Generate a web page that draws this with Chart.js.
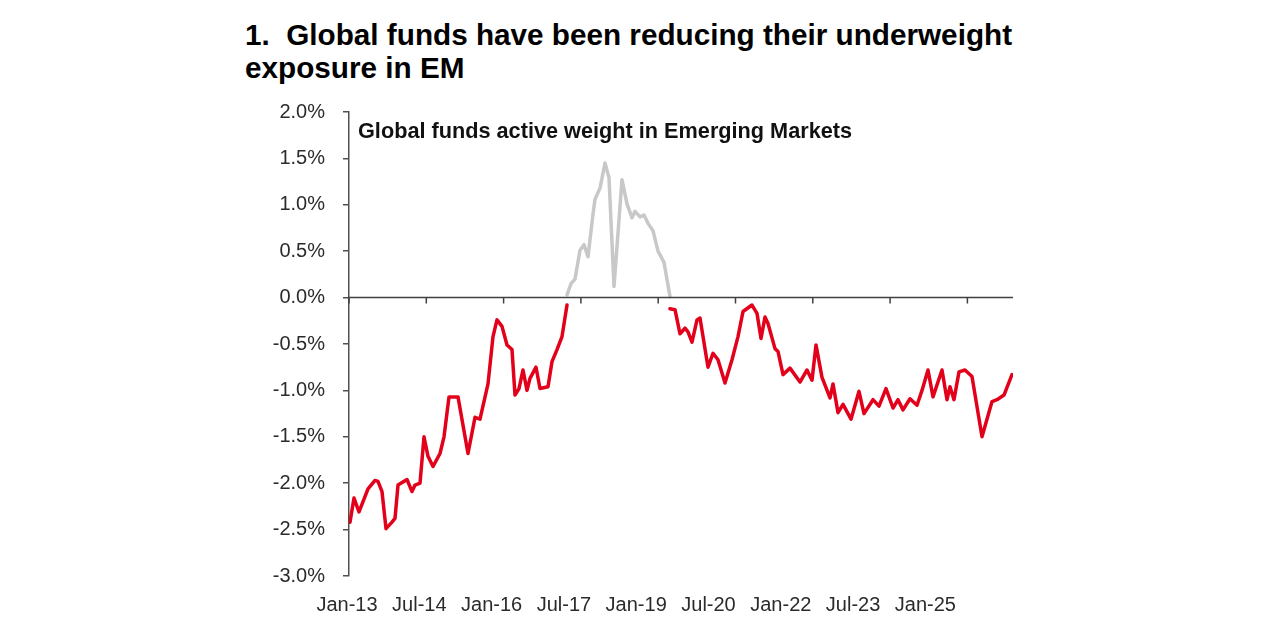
<!DOCTYPE html>
<html>
<head>
<meta charset="utf-8">
<script src="https://cdn.jsdelivr.net/npm/chart.js@4.4.1/dist/chart.umd.min.js"></script>
<style>
  html, body { margin: 0; padding: 0; background: #ffffff; }
  #wrap { position: relative; width: 1280px; height: 640px; overflow: hidden; }
  #c { position: absolute; left: 0; top: 0; }
  #title {
    position: absolute; left: 245px; top: 18px; width: 800px;
    font-family: "Liberation Sans", Arial, sans-serif; font-weight: bold;
    font-size: 29.7px; line-height: 33px; color: #000; white-space: pre;
  }
</style>
</head>
<body>
<div id="wrap">
  <div id="title">1.  Global funds have been reducing their underweight
exposure in EM</div>
  <canvas id="c" width="1280" height="640"></canvas>
</div>
<script>
// ---- data (x = observation position along the time axis, y = active weight in %) ----
const earlyRedX = [1,5,10,19,26,29,33,37,43,46,49,58,63,66,71,75,79,84,91,95,100,109,119,126,131,139,144,148,153,158,163,166,170,174,178,181,187,191,199,203,208,213,218];
const earlyRedY = [-2.42,-2.16,-2.31,-2.06,-1.97,-1.98,-2.09,-2.49,-2.42,-2.38,-2.02,-1.96,-2.09,-2.02,-2.00,-1.50,-1.71,-1.82,-1.68,-1.50,-1.07,-1.07,-1.68,-1.29,-1.31,-0.93,-0.42,-0.24,-0.31,-0.51,-0.56,-1.05,-0.98,-0.78,-1.00,-0.87,-0.75,-0.98,-0.96,-0.69,-0.56,-0.42,-0.08];
const positiveX = [218,222,226,231,235,239,244,246,251,256,260,265,273,278,283,286,291,295,299,304,309,315,321];
const positiveY = [0.03,0.15,0.20,0.51,0.57,0.44,0.90,1.06,1.18,1.45,1.29,0.12,1.27,1.01,0.86,0.93,0.87,0.89,0.80,0.72,0.50,0.38,0.01];
const lateRedX = [321,326,331,336,339,343,348,351,359,364,369,376,383,389,394,403,408,412,416,419,426,429,434,441,451,458,463,467,473,481,484,489,494,502,510,515,524,530,537,544,549,554,561,568,573,579,584,593,598,601,605,610,616,623,633,643,648,655,663];
const lateRedY = [-0.12,-0.13,-0.39,-0.33,-0.37,-0.48,-0.24,-0.22,-0.75,-0.60,-0.67,-0.92,-0.67,-0.42,-0.15,-0.08,-0.17,-0.44,-0.21,-0.28,-0.55,-0.58,-0.83,-0.76,-0.91,-0.78,-0.89,-0.51,-0.86,-1.08,-0.93,-1.24,-1.15,-1.31,-1.01,-1.25,-1.10,-1.17,-0.98,-1.19,-1.10,-1.21,-1.09,-1.16,-1.00,-0.78,-1.07,-0.78,-1.10,-0.96,-1.10,-0.80,-0.78,-0.85,-1.50,-1.12,-1.10,-1.05,-0.83];
const xTickLabels = ['Jan-13','Jul-14','Jan-16','Jul-17','Jan-19','Jul-20','Jan-22','Jul-23','Jan-25'];
const xTickLabelPos = [-2,70.3,142.6,214.9,287.2,359.5,431.8,504.1,576.4];
const yTickValues = [2.0,1.5,1.0,0.5,0.0,-0.5,-1.0,-1.5,-2.0,-2.5,-3.0];
const xAxisMax = 664;
const seriesLabel = 'Global funds active weight in Emerging Markets';

const toPts = (xs, ys) => xs.map((x, i) => ({ x: x, y: ys[i] }));
const RED = '#e2001a', GRAY = '#c8c8c8', AXIS = '#505050';
const FONT = '"Liberation Sans", Arial, sans-serif';

const zeroAxisPlugin = {
  id: 'zeroAxis',
  afterDatasetsDraw(chart) {
    const { ctx, chartArea, scales } = chart;
    const y0 = scales.y.getPixelForValue(0);
    ctx.save();
    ctx.strokeStyle = '#404040';
    ctx.lineWidth = 1.5;
    ctx.beginPath();
    ctx.moveTo(chartArea.left, y0);
    ctx.lineTo(chartArea.right, y0);
    const step = 77.3;
    for (let v = 0; v <= xAxisMax - 40; v += step) {
      const px = scales.x.getPixelForValue(v);
      ctx.moveTo(px, y0);
      ctx.lineTo(px, y0 + 6);
    }
    ctx.stroke();
    ctx.restore();
  }
};

const notePlugin = {
  id: 'note',
  afterDraw(chart) {
    const { ctx, chartArea } = chart;
    ctx.save();
    ctx.font = 'bold 21.7px ' + FONT;
    ctx.fillStyle = '#111';
    ctx.textAlign = 'left';
    ctx.textBaseline = 'alphabetic';
    ctx.fillText(seriesLabel, chartArea.left + 9, chartArea.top + 26);
    ctx.restore();
  }
};

const common = { pointRadius: 0, borderWidth: 3.5, tension: 0, fill: false,
                 borderJoinStyle: 'round', borderCapStyle: 'round', parsing: false };

new Chart(document.getElementById('c'), {
  type: 'line',
  data: {
    datasets: [
      Object.assign({ label: seriesLabel, data: toPts(earlyRedX, earlyRedY), borderColor: RED }, common),
      Object.assign({ label: seriesLabel + ' (positive)', data: toPts(positiveX, positiveY), borderColor: GRAY }, common),
      Object.assign({ label: seriesLabel + ' (late)', data: toPts(lateRedX, lateRedY), borderColor: RED }, common)
    ]
  },
  options: {
    responsive: false,
    animation: false,
    devicePixelRatio: 1,
    layout: { padding: { left: 269, right: 267, top: 112, bottom: 24 } },
    plugins: { legend: { display: false }, tooltip: { enabled: false }, title: { display: false } },
    scales: {
      x: {
        type: 'linear', min: 0, max: xAxisMax,
        grid: { display: false, drawTicks: false },
        border: { display: false },
        afterBuildTicks: (s) => { s.ticks = xTickLabelPos.map(v => ({ value: v })); },
        afterFit: (s) => { s.height = 40; },
        ticks: {
          autoSkip: false, maxRotation: 0, padding: 17,
          color: '#2b2b2b', font: { family: FONT, size: 20 },
          callback: (v) => { const i = xTickLabelPos.indexOf(v); return i >= 0 ? xTickLabels[i] : ''; }
        }
      },
      y: {
        type: 'linear', min: -3, max: 2,
        afterBuildTicks: (s) => { s.ticks = yTickValues.map(v => ({ value: v })); },
        afterFit: (s) => { s.width = 80; },
        grid: { display: true, drawOnChartArea: false, drawTicks: true, tickLength: 6, color: AXIS, lineWidth: 1.5 },
        border: { display: true, color: AXIS, width: 1.5 },
        ticks: {
          padding: 18, color: '#2b2b2b', font: { family: FONT, size: 20 },
          callback: (v) => v.toFixed(1) + '%'
        }
      }
    }
  },
  plugins: [zeroAxisPlugin, notePlugin]
});
</script>
</body>
</html>
